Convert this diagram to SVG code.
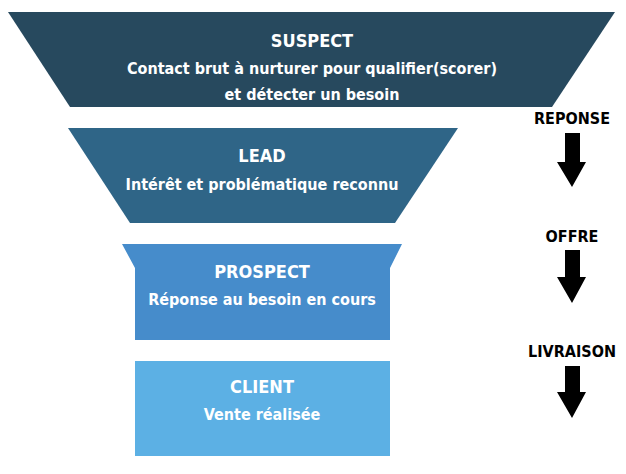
<svg xmlns="http://www.w3.org/2000/svg" width="626" height="474" viewBox="0 0 626 474">
<style>
.t{font-family:"DejaVu Sans Condensed","DejaVu Sans",sans-serif;font-weight:bold;fill:#fff;text-anchor:middle;font-size:16px}
.h{font-size:18px}
.r{font-family:"DejaVu Sans Condensed","DejaVu Sans",sans-serif;font-weight:bold;fill:#000;text-anchor:middle;font-size:16px}
</style>
<rect width="626" height="474" fill="#fff"/>
<g id="suspect"><polygon points="8,12 615,12 552,107 70,107" fill="#27495e"/>
<text class="t h" x="312" y="47">SUSPECT</text>
<text class="t" x="312" y="74">Contact brut à nurturer pour qualifier(scorer)</text>
<text class="t" x="312" y="100">et détecter un besoin</text></g>
<g id="lead"><polygon points="68,128 458,128 395,223 130,223" fill="#2f6587"/>
<text class="t h" x="262" y="162">LEAD</text>
<text class="t" x="262" y="190">Intérêt et problématique reconnu</text></g>
<g id="prospect"><polygon points="122,244 402,244 390,268 390,340 135,340 135,268" fill="#468ccb"/>
<text class="t h" x="262" y="278">PROSPECT</text>
<text class="t" x="262" y="305">Réponse au besoin en cours</text></g>
<g id="client"><rect x="135" y="361" width="255" height="95" fill="#5cb0e4"/>
<text class="t h" x="262" y="393">CLIENT</text>
<text class="t" x="262" y="420">Vente réalisée</text></g>
<g id="connectors">
<text class="r" x="572" y="124">REPONSE</text>
<polygon points="565,133 580,133 580,162 586,162 572,187 557,162 565,162" fill="#000"/>
<text class="r" x="572" y="242">OFFRE</text>
<polygon points="565,250 580,250 580,277 586,277 572,303 557,277 565,277" fill="#000"/>
<text class="r" x="572" y="357">LIVRAISON</text>
<polygon points="565,366 580,366 580,392 586,392 572,418 557,392 565,392" fill="#000"/>
</g>
</svg>
